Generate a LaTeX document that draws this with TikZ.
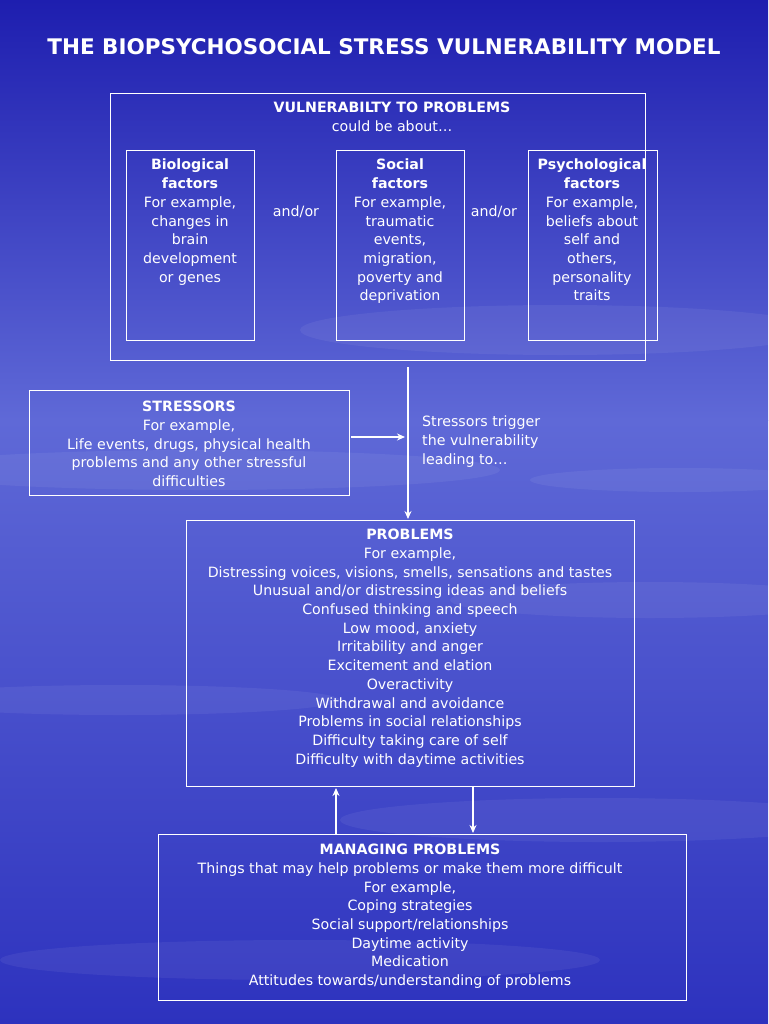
\documentclass[tikz,border=0pt]{standalone}
\usepackage{fontspec}
\setmainfont{DejaVu Sans}
\usetikzlibrary{arrows.meta}
\definecolor{bgtop}{RGB}{30,30,175}
\definecolor{bgmid}{RGB}{95,105,215}
\definecolor{bgbot}{RGB}{45,50,190}
\begin{document}
\begin{tikzpicture}[x=1pt,y=-1pt,
  box/.style={draw=white,line width=1.3pt},
  txt/.style={text=white,font=\fontsize{14.2}{18.7}\selectfont,align=center,inner sep=0pt},
  arr/.style={draw=white,line width=1.3pt,-{Stealth[length=8pt,width=7pt]}}]
\useasboundingbox (0,0) rectangle (768,1024);
\shade[top color=bgtop,bottom color=bgmid] (0,0) rectangle (768,420);
\shade[top color=bgmid,bottom color=bgbot] (0,420) rectangle (768,1024);
\foreach \cx/\cy/\rx/\ry in {560/330/260/25,200/470/300/20,650/600/200/18,120/700/220/15,600/820/260/22,300/960/300/20,680/480/150/12}
  \fill[white,opacity=0.06] (\cx,\cy) ellipse ({\rx} and {\ry});
\node[text=white,font=\bfseries\fontsize{21.5}{26}\selectfont] (title) at (384,47) {THE BIOPSYCHOSOCIAL STRESS VULNERABILITY MODEL};
\node[box,minimum width=535,minimum height=267,anchor=north west] (vul) at (110,93) {};
\node[txt,anchor=north] (vult) at (392,102) {\textbf{VULNERABILTY TO PROBLEMS}\\could be about…};
\node[box,minimum width=128,minimum height=190,anchor=north west] (bio) at (126,150) {};
\node[box,minimum width=128,minimum height=190,anchor=north west] (soc) at (336,150) {};
\node[box,minimum width=129,minimum height=190,anchor=north west] (psy) at (528,150) {};
\node[txt,anchor=north] at (190,159) {\textbf{Biological}\\\textbf{factors}\\For example,\\changes in\\brain\\development\\or genes};
\node[txt,anchor=north] at (400,159) {\textbf{Social}\\\textbf{factors}\\For example,\\traumatic\\events,\\migration,\\poverty and\\deprivation};
\node[txt,anchor=north] at (592,159) {\textbf{Psychological}\\\textbf{factors}\\For example,\\beliefs about\\self and\\others,\\personality\\traits};
\node[txt] (ao1) at (296,212) {and/or};
\node[txt] (ao2) at (494,212) {and/or};
\node[box,minimum width=320,minimum height=105,anchor=north west] (str) at (29,390) {};
\node[txt,anchor=north] at (189,401) {\textbf{STRESSORS}\\For example,\\Life events, drugs, physical health\\problems and any other stressful\\difficulties};
\coordinate (vtop) at (408,367);
\node[box,minimum width=448,minimum height=266,anchor=north west] (prob) at (186,520) {};
\node[txt,anchor=north] at (410,529) {\textbf{PROBLEMS}\\For example,\\Distressing voices, visions, smells, sensations and tastes\\Unusual and/or distressing ideas and beliefs\\Confused thinking and speech\\Low mood, anxiety\\Irritability and anger\\Excitement and elation\\Overactivity\\Withdrawal and avoidance\\Problems in social relationships\\Difficulty taking care of self\\Difficulty with daytime activities};
\draw[arr] (vtop) -- (408,519);
\draw[arr] (351,437) -- (405,437);
\node[txt,align=left,anchor=north west] (trig) at (422,416) {Stressors trigger\\the vulnerability\\leading to…};
\node[box,minimum width=528,minimum height=166,anchor=north west] (man) at (158,834) {};
\node[txt,anchor=north] at (410,844) {\textbf{MANAGING PROBLEMS}\\Things that may help problems or make them more difficult\\For example,\\Coping strategies\\Social support/relationships\\Daytime activity\\Medication\\Attitudes towards/understanding of problems};
\draw[arr] (336,834) -- (336,788);
\draw[arr] (473,786) -- (473,833);
\end{tikzpicture}
\end{document}
